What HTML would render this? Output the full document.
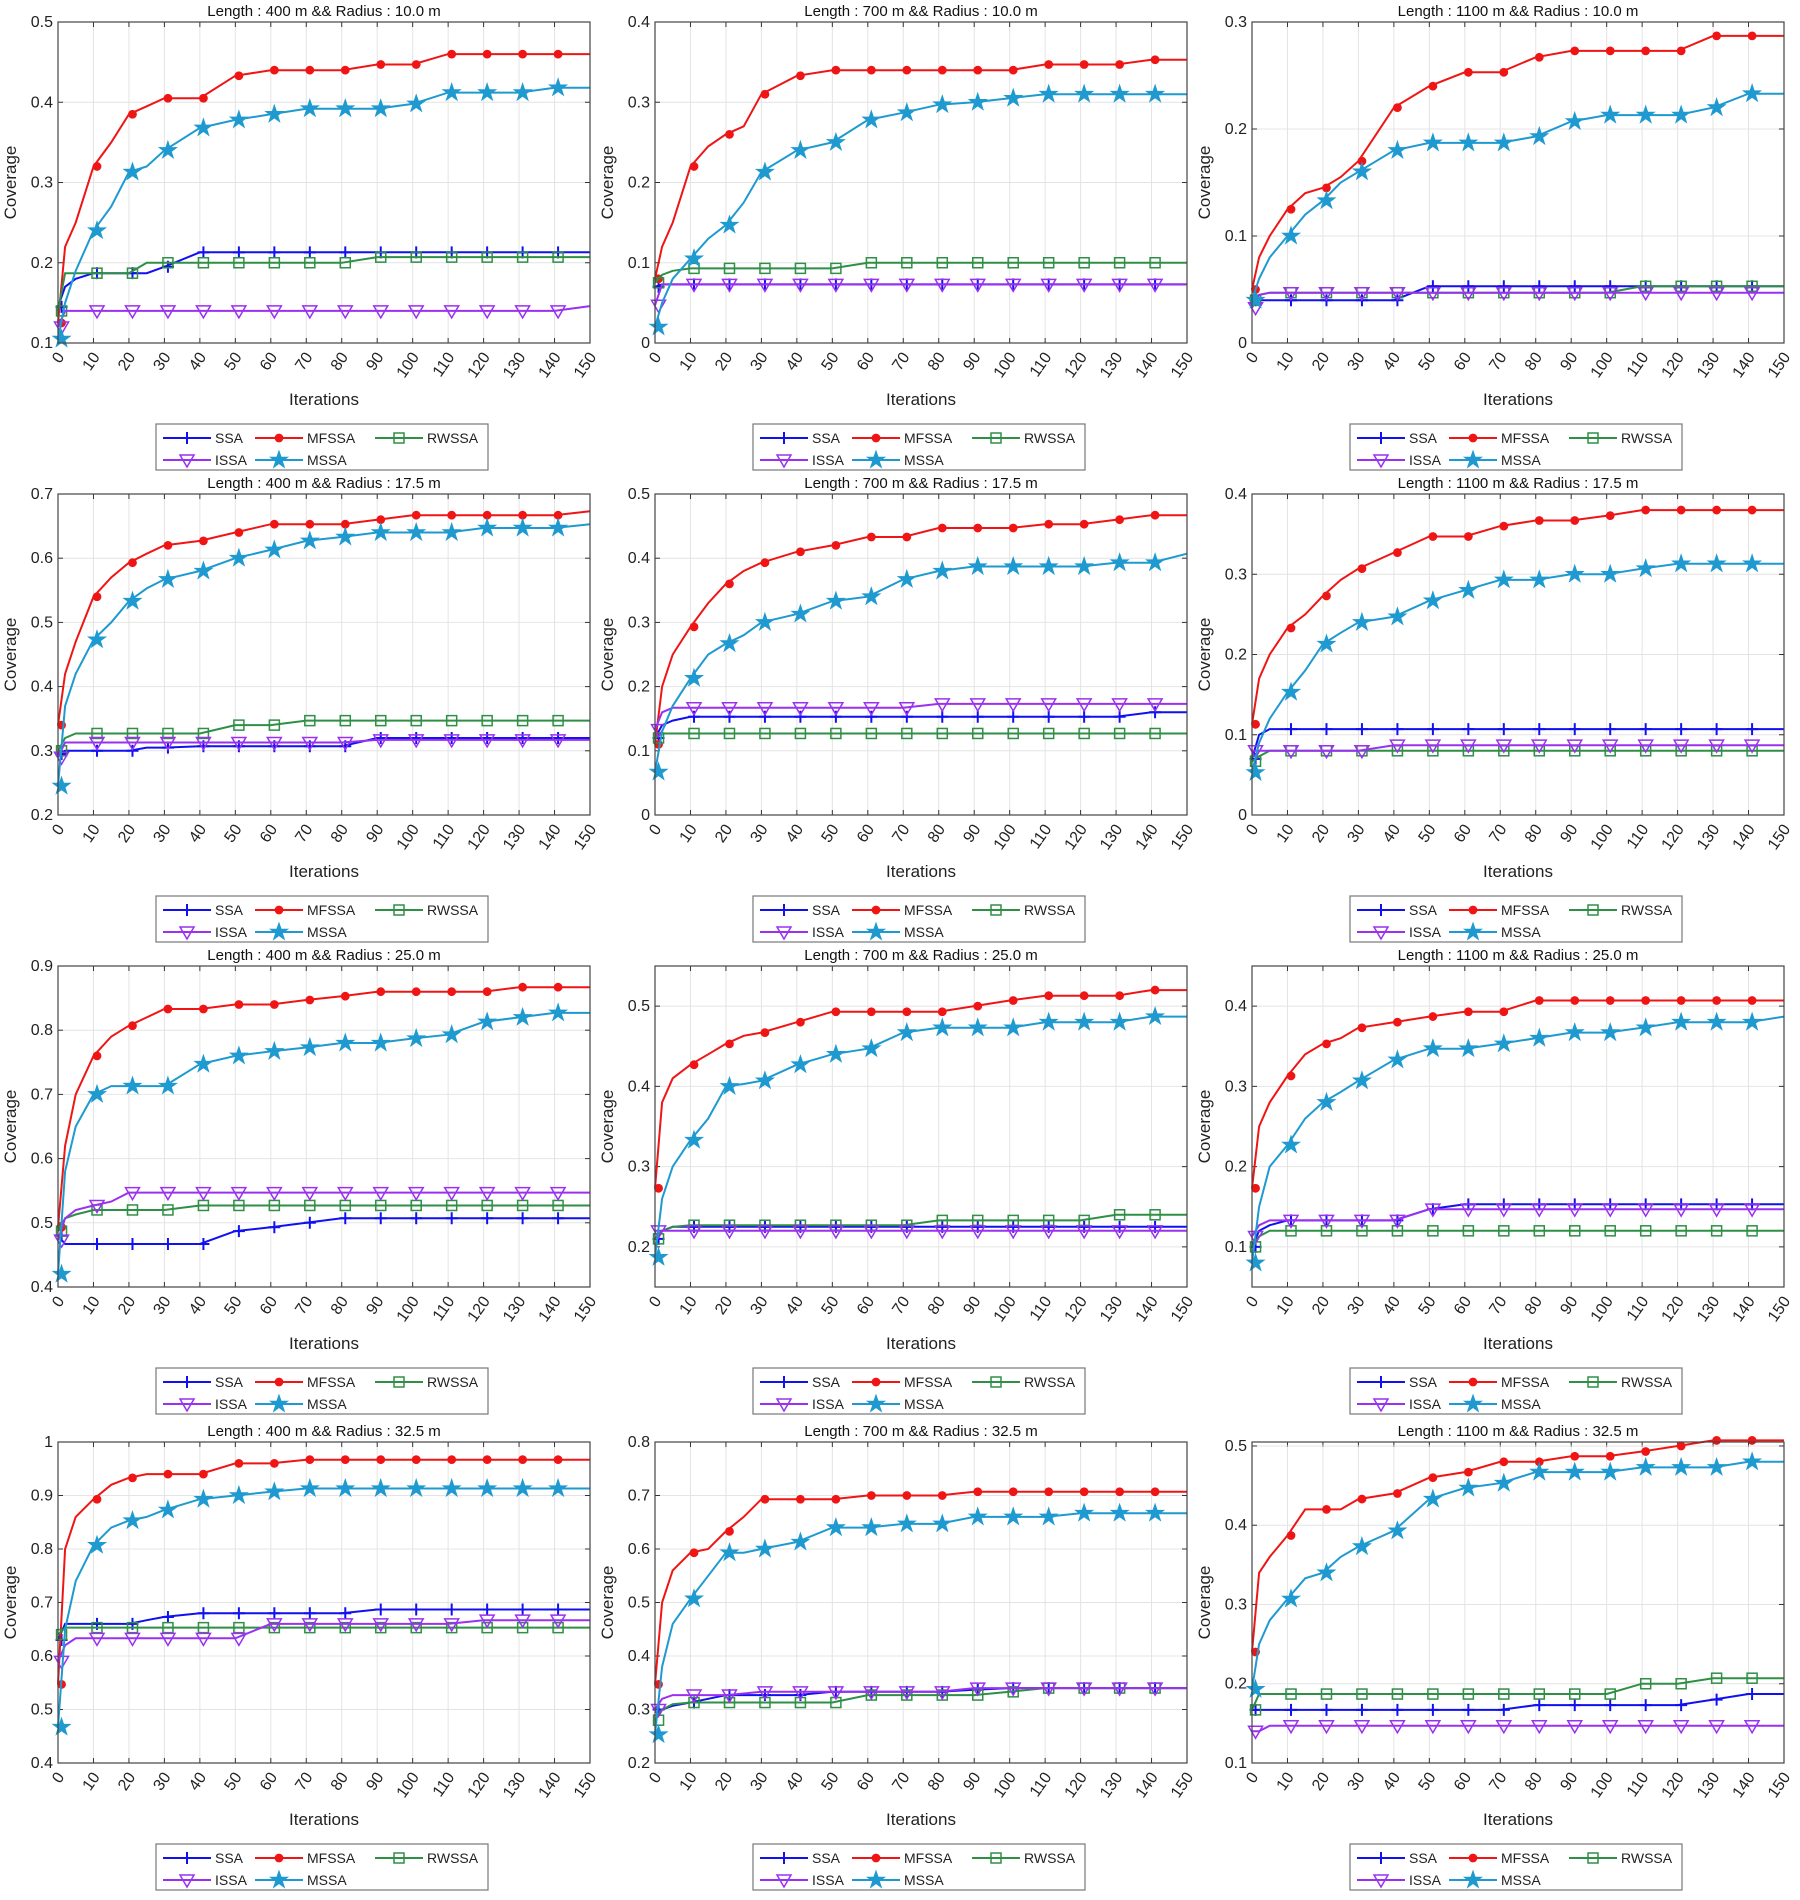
<!DOCTYPE html>
<html><head><meta charset="utf-8">
<style>
html,body{margin:0;padding:0;background:#fff;}
svg{display:block;font-family:"Liberation Sans",sans-serif;}
</style></head>
<body>
<svg id="fig" width="1800" height="1900" viewBox="0 0 1800 1900" xmlns="http://www.w3.org/2000/svg"></svg>
<script>
const iterations=[0,2,5,10,15,20,25,30,40,50,60,70,80,90,100,110,120,130,140,150];
const xTicks=[0,10,20,30,40,50,60,70,80,90,100,110,120,130,140,150];
const seriesNames=["SSA","MFSSA","RWSSA","ISSA","MSSA"];
const panelTitles=["Length : 400 m && Radius : 10.0 m","Length : 700 m && Radius : 10.0 m","Length : 1100 m && Radius : 10.0 m",
"Length : 400 m && Radius : 17.5 m","Length : 700 m && Radius : 17.5 m","Length : 1100 m && Radius : 17.5 m",
"Length : 400 m && Radius : 25.0 m","Length : 700 m && Radius : 25.0 m","Length : 1100 m && Radius : 25.0 m",
"Length : 400 m && Radius : 32.5 m","Length : 700 m && Radius : 32.5 m","Length : 1100 m && Radius : 32.5 m"];
const yRanges=[[0.1,0.5],[0,0.4],[0,0.3],[0.2,0.7],[0,0.5],[0,0.4],[0.4,0.9],[0.15,0.55],[0.05,0.45],[0.4,1],[0.2,0.8],[0.1,0.505]];
const yTickLabels=[[0.1,0.2,0.3,0.4,0.5],[0,0.1,0.2,0.3,0.4],[0,0.1,0.2,0.3],[0.2,0.3,0.4,0.5,0.6,0.7],[0,0.1,0.2,0.3,0.4,0.5],[0,0.1,0.2,0.3,0.4],
[0.4,0.5,0.6,0.7,0.8,0.9],[0.2,0.3,0.4,0.5],[0.1,0.2,0.3,0.4],[0.4,0.5,0.6,0.7,0.8,0.9,1],[0.2,0.3,0.4,0.5,0.6,0.7,0.8],[0.1,0.2,0.3,0.4,0.5]];

const ssa=[
[0.145,0.17,0.18,0.187,0.187,0.187,0.187,0.195,0.213,0.213,0.213,0.213,0.213,0.213,0.213,0.213,0.213,0.213,0.213,0.213],
[0.07,0.073,0.073,0.073,0.073,0.073,0.073,0.073,0.073,0.073,0.073,0.073,0.073,0.073,0.073,0.073,0.073,0.073,0.073,0.073],
[0.04,0.04,0.04,0.04,0.04,0.04,0.04,0.04,0.04,0.053,0.053,0.053,0.053,0.053,0.053,0.053,0.053,0.053,0.053,0.053],
[0.295,0.3,0.3,0.3,0.3,0.3,0.305,0.305,0.307,0.307,0.307,0.307,0.307,0.32,0.32,0.32,0.32,0.32,0.32,0.32],
[0.12,0.14,0.147,0.153,0.153,0.153,0.153,0.153,0.153,0.153,0.153,0.153,0.153,0.153,0.153,0.153,0.153,0.153,0.16,0.16],
[0.07,0.1,0.107,0.107,0.107,0.107,0.107,0.107,0.107,0.107,0.107,0.107,0.107,0.107,0.107,0.107,0.107,0.107,0.107,0.107],
[0.48,0.467,0.467,0.467,0.467,0.467,0.467,0.467,0.467,0.487,0.493,0.5,0.507,0.507,0.507,0.507,0.507,0.507,0.507,0.507],
[0.21,0.22,0.225,0.225,0.225,0.225,0.225,0.225,0.225,0.225,0.225,0.225,0.225,0.225,0.225,0.225,0.225,0.225,0.225,0.225],
[0.1,0.12,0.127,0.133,0.133,0.133,0.133,0.133,0.133,0.147,0.153,0.153,0.153,0.153,0.153,0.153,0.153,0.153,0.153,0.153],
[0.63,0.66,0.66,0.66,0.66,0.66,0.667,0.673,0.68,0.68,0.68,0.68,0.68,0.687,0.687,0.687,0.687,0.687,0.687,0.687],
[0.3,0.3,0.307,0.313,0.32,0.327,0.327,0.327,0.327,0.333,0.333,0.333,0.333,0.337,0.34,0.34,0.34,0.34,0.34,0.34],
[0.167,0.167,0.167,0.167,0.167,0.167,0.167,0.167,0.167,0.167,0.167,0.167,0.173,0.173,0.173,0.173,0.173,0.18,0.187,0.187]];
const mfssa=[
[0.125,0.22,0.25,0.32,0.35,0.385,0.395,0.405,0.405,0.433,0.44,0.44,0.44,0.447,0.447,0.46,0.46,0.46,0.46,0.46],
[0.08,0.12,0.15,0.22,0.245,0.26,0.27,0.31,0.333,0.34,0.34,0.34,0.34,0.34,0.34,0.347,0.347,0.347,0.353,0.353],
[0.05,0.08,0.1,0.125,0.14,0.145,0.155,0.17,0.22,0.24,0.253,0.253,0.267,0.273,0.273,0.273,0.273,0.287,0.287,0.287],
[0.34,0.42,0.47,0.54,0.57,0.593,0.607,0.62,0.627,0.64,0.653,0.653,0.653,0.66,0.667,0.667,0.667,0.667,0.667,0.673],
[0.11,0.2,0.25,0.293,0.33,0.36,0.38,0.393,0.41,0.42,0.433,0.433,0.447,0.447,0.447,0.453,0.453,0.46,0.467,0.467],
[0.113,0.17,0.2,0.233,0.25,0.273,0.293,0.307,0.327,0.347,0.347,0.36,0.367,0.367,0.373,0.38,0.38,0.38,0.38,0.38],
[0.493,0.62,0.7,0.76,0.79,0.807,0.82,0.833,0.833,0.84,0.84,0.847,0.853,0.86,0.86,0.86,0.86,0.867,0.867,0.867],
[0.273,0.38,0.41,0.427,0.44,0.453,0.463,0.467,0.48,0.493,0.493,0.493,0.493,0.5,0.507,0.513,0.513,0.513,0.52,0.52],
[0.173,0.25,0.28,0.313,0.34,0.353,0.36,0.373,0.38,0.387,0.393,0.393,0.407,0.407,0.407,0.407,0.407,0.407,0.407,0.407],
[0.547,0.8,0.86,0.893,0.92,0.933,0.94,0.94,0.94,0.96,0.96,0.967,0.967,0.967,0.967,0.967,0.967,0.967,0.967,0.967],
[0.347,0.5,0.56,0.593,0.6,0.633,0.66,0.693,0.693,0.693,0.7,0.7,0.7,0.707,0.707,0.707,0.707,0.707,0.707,0.707],
[0.24,0.34,0.36,0.387,0.42,0.42,0.42,0.433,0.44,0.46,0.467,0.48,0.48,0.487,0.487,0.493,0.5,0.507,0.507,0.507]];
const rwssa=[
[0.14,0.187,0.187,0.187,0.187,0.187,0.2,0.2,0.2,0.2,0.2,0.2,0.2,0.207,0.207,0.207,0.207,0.207,0.207,0.207],
[0.075,0.085,0.09,0.093,0.093,0.093,0.093,0.093,0.093,0.093,0.1,0.1,0.1,0.1,0.1,0.1,0.1,0.1,0.1,0.1],
[0.04,0.045,0.047,0.047,0.047,0.047,0.047,0.047,0.047,0.047,0.047,0.047,0.047,0.047,0.047,0.053,0.053,0.053,0.053,0.053],
[0.3,0.32,0.327,0.327,0.327,0.327,0.327,0.327,0.327,0.34,0.34,0.347,0.347,0.347,0.347,0.347,0.347,0.347,0.347,0.347],
[0.12,0.127,0.127,0.127,0.127,0.127,0.127,0.127,0.127,0.127,0.127,0.127,0.127,0.127,0.127,0.127,0.127,0.127,0.127,0.127],
[0.067,0.073,0.08,0.08,0.08,0.08,0.08,0.08,0.08,0.08,0.08,0.08,0.08,0.08,0.08,0.08,0.08,0.08,0.08,0.08],
[0.487,0.507,0.513,0.52,0.52,0.52,0.52,0.52,0.527,0.527,0.527,0.527,0.527,0.527,0.527,0.527,0.527,0.527,0.527,0.527],
[0.21,0.22,0.225,0.227,0.227,0.227,0.227,0.227,0.227,0.227,0.227,0.227,0.233,0.233,0.233,0.233,0.233,0.24,0.24,0.24],
[0.1,0.113,0.12,0.12,0.12,0.12,0.12,0.12,0.12,0.12,0.12,0.12,0.12,0.12,0.12,0.12,0.12,0.12,0.12,0.12],
[0.64,0.653,0.653,0.653,0.653,0.653,0.653,0.653,0.653,0.653,0.653,0.653,0.653,0.653,0.653,0.653,0.653,0.653,0.653,0.653],
[0.28,0.3,0.31,0.313,0.313,0.313,0.313,0.313,0.313,0.313,0.327,0.327,0.327,0.327,0.333,0.34,0.34,0.34,0.34,0.34],
[0.167,0.187,0.187,0.187,0.187,0.187,0.187,0.187,0.187,0.187,0.187,0.187,0.187,0.187,0.187,0.2,0.2,0.207,0.207,0.207]];
const issa=[
[0.12,0.14,0.14,0.14,0.14,0.14,0.14,0.14,0.14,0.14,0.14,0.14,0.14,0.14,0.14,0.14,0.14,0.14,0.14,0.146],
[0.047,0.073,0.073,0.073,0.073,0.073,0.073,0.073,0.073,0.073,0.073,0.073,0.073,0.073,0.073,0.073,0.073,0.073,0.073,0.073],
[0.033,0.045,0.047,0.047,0.047,0.047,0.047,0.047,0.047,0.047,0.047,0.047,0.047,0.047,0.047,0.047,0.047,0.047,0.047,0.047],
[0.29,0.313,0.313,0.313,0.313,0.313,0.313,0.313,0.313,0.313,0.313,0.313,0.313,0.317,0.317,0.317,0.317,0.317,0.317,0.317],
[0.133,0.16,0.167,0.167,0.167,0.167,0.167,0.167,0.167,0.167,0.167,0.167,0.173,0.173,0.173,0.173,0.173,0.173,0.173,0.173],
[0.08,0.08,0.08,0.08,0.08,0.08,0.08,0.08,0.087,0.087,0.087,0.087,0.087,0.087,0.087,0.087,0.087,0.087,0.087,0.087],
[0.473,0.507,0.52,0.527,0.533,0.547,0.547,0.547,0.547,0.547,0.547,0.547,0.547,0.547,0.547,0.547,0.547,0.547,0.547,0.547],
[0.22,0.22,0.22,0.22,0.22,0.22,0.22,0.22,0.22,0.22,0.22,0.22,0.22,0.22,0.22,0.22,0.22,0.22,0.22,0.22],
[0.113,0.127,0.133,0.133,0.133,0.133,0.133,0.133,0.133,0.147,0.147,0.147,0.147,0.147,0.147,0.147,0.147,0.147,0.147,0.147],
[0.59,0.62,0.633,0.633,0.633,0.633,0.633,0.633,0.633,0.633,0.66,0.66,0.66,0.66,0.66,0.66,0.667,0.667,0.667,0.667],
[0.3,0.32,0.327,0.327,0.327,0.327,0.33,0.333,0.333,0.333,0.333,0.333,0.333,0.34,0.34,0.34,0.34,0.34,0.34,0.34],
[0.14,0.14,0.147,0.147,0.147,0.147,0.147,0.147,0.147,0.147,0.147,0.147,0.147,0.147,0.147,0.147,0.147,0.147,0.147,0.147]];
const mssa=[
[0.105,0.15,0.19,0.24,0.27,0.313,0.32,0.34,0.368,0.378,0.385,0.392,0.392,0.392,0.398,0.412,0.412,0.412,0.418,0.418],
[0.02,0.05,0.08,0.105,0.13,0.147,0.175,0.213,0.24,0.25,0.278,0.287,0.297,0.3,0.305,0.31,0.31,0.31,0.31,0.31],
[0.04,0.06,0.08,0.1,0.12,0.133,0.15,0.16,0.18,0.187,0.187,0.187,0.193,0.207,0.213,0.213,0.213,0.22,0.233,0.233],
[0.245,0.37,0.42,0.473,0.5,0.533,0.553,0.567,0.58,0.6,0.613,0.627,0.633,0.64,0.64,0.64,0.647,0.647,0.647,0.653],
[0.067,0.13,0.17,0.213,0.25,0.267,0.28,0.3,0.313,0.333,0.34,0.367,0.38,0.387,0.387,0.387,0.387,0.393,0.393,0.407],
[0.053,0.09,0.12,0.153,0.18,0.213,0.227,0.24,0.247,0.267,0.28,0.293,0.293,0.3,0.3,0.307,0.313,0.313,0.313,0.313],
[0.42,0.58,0.65,0.7,0.713,0.713,0.713,0.713,0.747,0.76,0.767,0.773,0.78,0.78,0.787,0.793,0.813,0.82,0.827,0.827],
[0.187,0.26,0.3,0.333,0.36,0.4,0.403,0.407,0.427,0.44,0.447,0.467,0.473,0.473,0.473,0.48,0.48,0.48,0.487,0.487],
[0.08,0.15,0.2,0.227,0.26,0.28,0.293,0.307,0.333,0.347,0.347,0.353,0.36,0.367,0.367,0.373,0.38,0.38,0.38,0.387],
[0.467,0.65,0.74,0.807,0.84,0.853,0.86,0.873,0.893,0.9,0.907,0.913,0.913,0.913,0.913,0.913,0.913,0.913,0.913,0.913],
[0.253,0.38,0.46,0.507,0.55,0.593,0.593,0.6,0.613,0.64,0.64,0.647,0.647,0.66,0.66,0.66,0.667,0.667,0.667,0.667],
[0.193,0.25,0.28,0.307,0.333,0.34,0.36,0.373,0.393,0.433,0.447,0.453,0.467,0.467,0.467,0.473,0.473,0.473,0.48,0.48]];

const allSeries=[ssa,mfssa,rwssa,issa,mssa];
const colors=["#1010f0","#f01515","#2e8f45","#9a30f0","#1e9ad0"];
const NS="http://www.w3.org/2000/svg";
const svg=document.getElementById("fig");
function mk(tag,attrs,parent){const e=document.createElementNS(NS,tag);for(const k in attrs)e.setAttribute(k,attrs[k]);(parent||svg).appendChild(e);return e;}

function marker(g,kind,cx,cy,color){
  let m;
  if(kind===0){m=mk("path",{d:`M${cx-6},${cy}H${cx+6}M${cx},${cy-6}V${cy+6}`,stroke:color,"stroke-width":2,fill:"none"},g);}
  else if(kind===1){m=mk("circle",{cx:cx,cy:cy,r:3.8,fill:color,stroke:color,"stroke-width":1.2},g);}
  else if(kind===2){m=mk("rect",{x:cx-5,y:cy-5,width:10,height:10,fill:"none",stroke:color,"stroke-width":1.5},g);}
  else if(kind===3){m=mk("path",{d:`M${cx-7},${cy-5}L${cx+7},${cy-5}L${cx},${cy+7}Z`,fill:"none",stroke:color,"stroke-width":1.5},g);}
  else {let d="";for(let i=0;i<10;i++){const r=i%2?3.5:9;const a=-Math.PI/2+i*Math.PI/5;d+=(i?"L":"M")+(cx+r*Math.cos(a)).toFixed(1)+","+(cy+r*Math.sin(a)).toFixed(1);}m=mk("path",{d:d+"Z",fill:color,stroke:color,"stroke-width":1},g);}
  
  
  return m;
}

const colLeft=[58,655,1252], rowTop=[22,494,966,1442], PW=532, PH=321;
for(let p=0;p<12;p++){
  const L=colLeft[p%3], T=rowTop[Math.floor(p/3)];
  const [y0,y1]=yRanges[p];
  const xs=v=>L+v/150*PW;
  const ys=v=>T+PH-(v-y0)/(y1-y0)*PH;
  const g=mk("g",{});
  
  
  const bg=mk("rect",{x:L,y:T,width:PW,height:PH,fill:"#fff"},g);
  
  
  xTicks.forEach(t=>{
    const x=xs(t);
    const gl=mk("line",{x1:x,x2:x,y1:T,y2:T+PH,stroke:"#e4e4e4","stroke-width":1},g);
    
    
    mk("line",{x1:x,x2:x,y1:T+PH,y2:T+PH-5,stroke:"#333"},g);
    mk("line",{x1:x,x2:x,y1:T,y2:T+5,stroke:"#333"},g);
    const tl=mk("text",{x:x+7,y:T+PH+14,"font-size":16,fill:"#222","text-anchor":"end",transform:`rotate(-55 ${x+7} ${T+PH+14})`},g);
    tl.textContent=t;
    
    
  });
  yTickLabels[p].forEach(t=>{
    const y=ys(t);
    const gl=mk("line",{x1:L,x2:L+PW,y1:y,y2:y,stroke:"#e4e4e4","stroke-width":1},g);
    
    
    mk("line",{x1:L,x2:L+5,y1:y,y2:y,stroke:"#333"},g);
    mk("line",{x1:L+PW,x2:L+PW-5,y1:y,y2:y,stroke:"#333"},g);
    const tl=mk("text",{x:L-5,y:y+5,"font-size":16,fill:"#222","text-anchor":"end"},g);
    tl.textContent=String(t);
    
    
  });
  allSeries.forEach((ser,si)=>{
    const vals=ser[p];
    const sg=mk("g",{},g);
    
    
    const pts=iterations.map((it,i)=>xs(it).toFixed(1)+","+ys(vals[i]).toFixed(1)).join(" ");
    const pl=mk("polyline",{points:pts,fill:"none",stroke:colors[si],"stroke-width":2},sg);
    
    
    iterations.forEach((it,i)=>{ if(it%10===0 && it<150) marker(sg,si,xs(it+1),ys(vals[i]),colors[si]); });
  });
  const box=mk("rect",{x:L,y:T,width:PW,height:PH,fill:"none",stroke:"#444","stroke-width":1.2},g);
  
  
  const title=mk("text",{x:L+PW/2,y:T-6,"font-size":15,fill:"#111","text-anchor":"middle"},g);
  title.textContent=panelTitles[p];
  
  
  const xl=mk("text",{x:L+PW/2,y:T+PH+62,"font-size":17,fill:"#222","text-anchor":"middle"},g);
  xl.textContent="Iterations";
  
  
  const yx=L-42, yy=T+PH/2;
  const yl=mk("text",{x:yx,y:yy,"font-size":17,fill:"#222","text-anchor":"middle",transform:`rotate(-90 ${yx} ${yy})`},g);
  yl.textContent="Coverage";
  
  
  const LX=L+98, LY=T+402;
  const lg=mk("g",{},g);
  
  
  mk("rect",{x:LX,y:LY,width:332,height:46,fill:"#fff",stroke:"#777","stroke-width":1.2},lg);
  const pos=[[7,0],[99,0],[219,0],[7,1],[99,1]];
  [0,1,2,3,4].forEach((si,k)=>{
    const [dx,row]=pos[k];
    const yy2=LY+14+row*22;
    const le=mk("g",{},lg);
    
    
    mk("line",{x1:LX+dx,x2:LX+dx+48,y1:yy2,y2:yy2,stroke:colors[si],"stroke-width":2},le);
    marker(le,si,LX+dx+24,yy2,colors[si]);
    const t=mk("text",{x:LX+dx+52,y:yy2+5,"font-size":14,fill:"#222"},le);
    t.textContent=seriesNames[si];
  });
}
</script>
</body></html>
